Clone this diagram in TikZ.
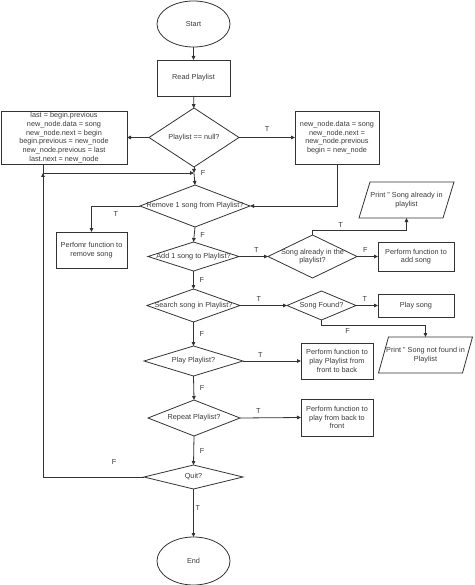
\documentclass[tikz,border=0pt]{standalone}
\usepackage{fontspec}
\setmainfont{Liberation Sans}
\usetikzlibrary{shapes.geometric,arrows.meta}
\definecolor{ln}{HTML}{333333}
\definecolor{tx}{HTML}{3A3A3A}
\begin{document}
\begin{tikzpicture}[x=1pt,y=-1pt,
  every node/.style={font=\fontsize{7.3}{8.7}\selectfont, text=tx, outer sep=0pt, inner sep=1pt, line width=0.8pt, draw=ln},
  box/.style={rectangle, draw, align=center},
  dia/.style={diamond, draw, inner sep=0pt},
  io/.style={rectangle, draw=none, align=center},
  term/.style={ellipse, draw, align=center},
  lab/.style={draw=none, fill=none, align=center},
  arr/.style={-{Triangle[length=4pt,width=3.6pt]}, line width=0.8pt, draw=ln},
  ln/.style={line width=0.8pt, draw=ln}
]
\useasboundingbox (0,0) rectangle (474,585);

\node[term, minimum width=73pt, minimum height=46pt] (start) at (193.5,24) {Start};
\node[box, minimum width=73pt, minimum height=36pt] (read) at (193.5,78) {Read Playlist};
\node[dia, minimum width=90pt, minimum height=59pt, label={[lab]center:Playlist == null?}] (null) at (194,137.5) {};
\node[box, minimum width=126pt, minimum height=53pt] (lbox) at (64,137.5) {last = begin.previous\\new\_node.data = song\\new\_node.next = begin\\begin.previous = new\_node\\new\_node.previous = last\\last.next = new\_node};
\node[box, minimum width=84pt, minimum height=53pt] (rbox) at (337,137.5) {new\_node.data = song\\new\_node.next =\\new\_node.previous\\begin = new\_node};

\node[dia, minimum width=110pt, minimum height=42pt, label={[lab]center:Remove 1 song from Playlist?}] (remove) at (195,206) {};
\node[box, minimum width=71pt, minimum height=36pt] (rembox) at (91.5,250) {Perfomr function to\\remove song};
\node[dia, minimum width=91pt, minimum height=29pt, label={[lab]center:Add 1 song to Playlist?}] (add) at (193.5,256.5) {};
\node[dia, minimum width=89pt, minimum height=43pt, label={[lab]center:{Song already in the\\playlist?}}] (already) at (312.5,256.5) {};
\node[io, minimum width=95pt, minimum height=36pt] (print1) at (406.5,200) {Print " Song already in\\playlist};
\draw[ln] (print1.south west) -- ([xshift=11pt]print1.north west) -- (print1.north east) -- ([xshift=-11pt]print1.south east) -- cycle;
\node[box, minimum width=76pt, minimum height=29pt] (addbox) at (416,256.5) {Perform function to\\add song};

\node[dia, minimum width=93pt, minimum height=33pt, label={[lab]center:Search song in Playlist?}] (search) at (193.5,305.5) {};
\node[dia, minimum width=69pt, minimum height=29pt, label={[lab]center:Song Found?}] (found) at (321.5,305.5) {};
\node[box, minimum width=76pt, minimum height=23pt] (playsong) at (416,305.5) {Play song};
\node[io, minimum width=94pt, minimum height=36pt] (print2) at (425.5,355) {Print " Song not found in\\Playlist};
\draw[ln] (print2.south west) -- ([xshift=10pt]print2.north west) -- (print2.north east) -- ([xshift=-10pt]print2.south east) -- cycle;

\node[dia, minimum width=99pt, minimum height=30pt, label={[lab]center:Play Playlist?}] (play) at (193.5,361) {};
\node[box, minimum width=72pt, minimum height=36pt] (playbox) at (337,361) {Perform function to\\play Playlist from\\front to back};
\node[dia, minimum width=92pt, minimum height=36pt, label={[lab]center:Repeat Playlist?}] (repeat) at (194,418) {};
\node[box, minimum width=72pt, minimum height=37pt] (repbox) at (337,417.5) {Perform function to\\play from back to\\front};
\node[dia, minimum width=99pt, minimum height=24pt, label={[lab]center:Quit?}] (quit) at (193.5,477) {};
\node[term, minimum width=73pt, minimum height=48pt] (end) at (193.5,561) {End};

\coordinate (j1) at (194,173);
\coordinate (lj) at (43,173);

\draw[arr] (start) -- (read);
\draw[arr] (read) -- (null);
\draw[arr] (null.west) -- (lbox.east);
\draw[arr] (null.east) -- node[lab, above=5pt] {T} (rbox.west);
\draw[arr] (null.south) -- (j1);
\draw[arr] (lj |- lbox.south) -- (lj) -- (j1);
\node[lab] (fnull) at (203,173) {F};
\draw[arr] (j1) -- (remove.north);
\draw[arr] (rbox.south) |- (remove.east);

\draw[arr] (remove.west) -| node[lab, pos=0.25, below=4pt] {T} (rembox.north);
\draw[arr] (remove.south) -- node[lab, right=5pt] {F} (add.north);
\draw[arr] (add.east) -- node[lab, above=3pt, pos=0.6] {T} (already.west);
\draw[arr] (already.north) -- ++(0,-5) -| node[lab, pos=0.15, above=2pt] {T} (print1.south);
\draw[arr] (already.east) -- node[lab, above=3pt, pos=0.4] {F} (addbox.west);

\draw[arr] (add.south) -- node[lab, right=5pt] {F} (search.north);
\draw[arr] (search.east) -- node[lab, above=3pt, pos=0.4] {T} (found.west);
\draw[arr] (found.east) -- node[lab, above=3pt, pos=0.4] {T} (playsong.west);
\draw[arr] (found.south) -- ++(0,5) -| node[lab, pos=0.125, below=2pt] {F} (print2.north);

\draw[arr] (search.south) -- node[lab, right=5pt] {F} (play.north);
\draw[arr] (play.east) -- node[lab, above=3pt, pos=0.3] {T} (playbox.west);
\draw[arr] (play.south) -- node[lab, right=5pt] {F} (repeat.north);
\draw[arr] (repeat.east) -- node[lab, above=3pt, pos=0.3] {T} (repbox.west);
\draw[arr] (repeat.south) -- node[lab, right=5pt] {F} (quit.north);
\draw[arr] (quit.south) -- node[lab, right=1pt, pos=0.4] {T} (end.north);
\draw[arr] (quit.west) -| (lj);
\node[lab] (fquit) at (114,462) {F};
\end{tikzpicture}
\end{document}
